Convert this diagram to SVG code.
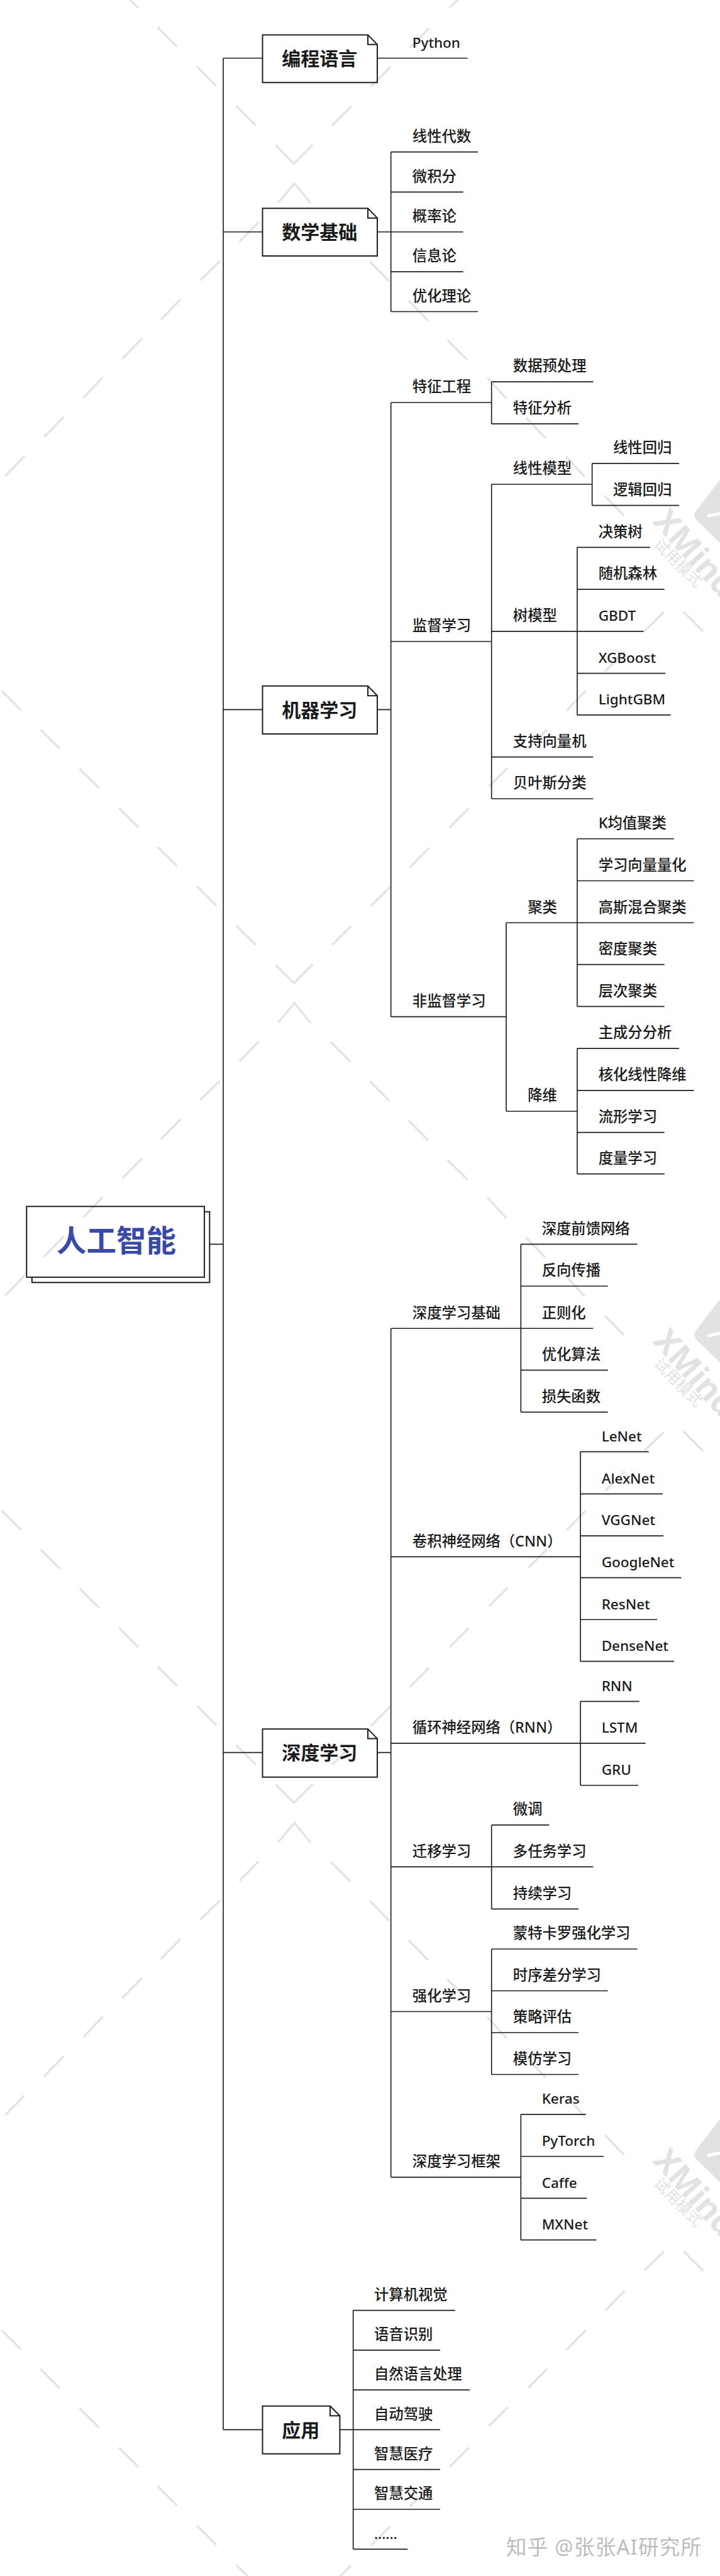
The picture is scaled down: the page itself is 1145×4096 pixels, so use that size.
<svg xmlns="http://www.w3.org/2000/svg" xmlns:xlink="http://www.w3.org/1999/xlink" width="1145" height="4096" viewBox="0 0 1145 4096">
<style>
.c{fill:none;stroke:#1f1f1f;stroke-width:2}
.b{fill:none;stroke:#1f1f1f;stroke-width:2.4;stroke-linejoin:miter}
.t,.l,.m,.r,.wm,.wx,.wz{font-family:"Noto Sans","Noto Sans CJK SC",sans-serif}
.t{font-size:28px;font-weight:500;fill:#1a1a1a}
.l{font-size:27px;font-weight:500;fill:#1a1a1a}
.m{font-size:36px;font-weight:700;fill:#1a1a1a}
.r{font-size:57px;font-weight:700;fill:#3949a8}
.wl{fill:none;stroke:#e4e4e4;stroke-width:4.2}
.wx{font-size:62px;font-weight:700;fill:#e2e2e2}
.wm{font-size:29px;font-weight:400;fill:#e2e2e2}
.wz{font-size:39px;font-weight:400;fill:#bcbcbc}
</style>
<defs>
<path id="wmtile" class="wl" d="M3 -246L40 -209M77 -172L114 -135M152 -97L189 -60M227 -22L264 15M301 52L338 89M376 127L413 164M451 202L488 239M526 277L561 312L597 276M634 239L670 203M708 165L745 128M782 91L819 54M858 15L895 -22M933 -63L969 -99M1008 -136L1044 -172M1081 -208L1118 -246M1155 -283L1192 -321M1230 -360L1267 -396M1304 -397L1342 -359M531 387L562 350L593 388M494 423L457 461M420 498L382 535M345 571L307 610M271 646L233 685M196 720L159 759M122 795L84 834M47 870L10 908M631 424L669 462M706 499L743 537M780 574L817 612M854 649L892 687M930 721L967 761M1004 797L1041 836M1080 871L1116 910M1154 946L1191 984"/>
<path id="wmlogo" fill="#e2e2e2" d="M1328 975Q1322 983 1328 991L1378 1040Q1385 1045 1392 1040V908Q1385 904 1378 910Z"/>
</defs>
<g transform="scale(0.83333)">
<g id="watermark">
<use xlink:href="#wmtile" href="#wmtile"/>
<use xlink:href="#wmtile" href="#wmtile" y="1564"/>
<use xlink:href="#wmtile" href="#wmtile" y="3128"/>
<use xlink:href="#wmtile" href="#wmtile" y="4692"/>
<g id="wm1"><use xlink:href="#wmlogo" href="#wmlogo"/><path d="M1350 985L1392 976" stroke="#fff" stroke-width="6" fill="none"/><text class="wx" transform="translate(1244 996) rotate(48)">XMind</text><text class="wm" transform="translate(1246 1040) rotate(45)">试用模式</text></g>
<g id="wm2" transform="translate(0 1564)"><use xlink:href="#wmlogo" href="#wmlogo"/><path d="M1350 985L1392 976" stroke="#fff" stroke-width="6" fill="none"/><text class="wx" transform="translate(1244 996) rotate(48)">XMind</text><text class="wm" transform="translate(1246 1040) rotate(45)">试用模式</text></g>
<g id="wm3" transform="translate(0 3128)"><use xlink:href="#wmlogo" href="#wmlogo"/><path d="M1350 985L1392 976" stroke="#fff" stroke-width="6" fill="none"/><text class="wx" transform="translate(1244 996) rotate(48)">XMind</text><text class="wm" transform="translate(1246 1040) rotate(45)">试用模式</text></g>
<text class="wz" x="966" y="4874" textLength="372">知乎 @张张AI研究所</text>
</g>
<g id="connectors">
<path class="c" d="M426 111V4636M400 2374H426M426 111H501M426 442.5H501M426 1354H501M426 3344H501M426 4636H501"/>
<path class="c" d="M720 111H892.5"/>
<path class="c" d="M720 442.5H746M746 290V594.6M746 290H912M746 366.5H884M746 442.5H884M746 518.5H884M746 594.6H912"/>
<path class="c" d="M720 1354H746M746 768V1940M746 768H938M938 728.6V808.7M938 728.6H1132M938 808.7H1104"/>
<path class="c" d="M746 1224H938M938 924V1524M938 924H1130M1130 884.2V964.3M1130 884.2H1296M1130 964.3H1296M938 1204.6H1101.5M1101.5 1044.4V1364.3M1101.5 1044.4H1240.8M1101.5 1124.5H1268M1101.5 1204.6H1228.5M1101.5 1284.7H1269.7M1101.5 1364.3H1280M938 1444.4H1132M938 1524H1132"/>
<path class="c" d="M746 1940H966M966 1760.7V2120.4M966 1760.7H1101.5M1101.5 1600.5V1920.4M1101.5 1600.5H1286.4M1101.5 1680.6H1324M1101.5 1760.7H1324M1101.5 1840.3H1268M1101.5 1920.4H1268M966 2120.4H1101.5M1101.5 2000.5V2240M1101.5 2000.5H1296M1101.5 2080.6H1324M1101.5 2160.7H1268M1101.5 2240H1268"/>
<path class="c" d="M720 3344H746M746 2534.7V4154.2M746 2534.7H994M994 2374V2694.4M994 2374H1216M994 2454H1160M994 2534.7H1132M994 2614.3H1160M994 2694.4H1160"/>
<path class="c" d="M746 2970.4H1107.6M1107.6 2770V3170M1107.6 2770H1238M1107.6 2850.5H1264.5M1107.6 2930.6H1266M1107.6 3010.4H1300.4M1107.6 3090.3H1254M1107.6 3170H1286.4"/>
<path class="c" d="M746 3326.2H1107.6M1107.6 3246.4V3406.5M1107.6 3246.4H1220M1107.6 3326.2H1232M1107.6 3406.5H1218"/>
<path class="c" d="M746 3562H938M938 3482.3V3642.5M938 3482.3H1048M938 3562H1132M938 3642.5H1104"/>
<path class="c" d="M746 3838.2H938M938 3718.8V3958.2M938 3718.8H1216M938 3798.6H1160M938 3878.4H1104M938 3958.2H1104"/>
<path class="c" d="M746 4154.2H994M994 4034.5V4274M994 4034.5H1118M994 4114.5H1152M994 4194.5H1120M994 4274H1138"/>
<path class="c" d="M648.5 4636H674M674 4408.3V4864M674 4408.3H868.4M674 4484.2H840M674 4560.2H896.4M674 4636H840M674 4712H840M674 4788H840M674 4864H778"/>
</g>
<g id="root">
<path class="b" d="M390 2312H400V2447H61V2437"/>
<rect class="b" x="50.7" y="2302" width="339.3" height="135"/>
<text class="r" x="108" y="2388.5">人工智能</text>
</g>
<g id="n-lang"><path class="b" d="M501 66.5H702L720 85V157.5H501ZM702 66.5V85H720"/><text class="m" x="538" y="124.5">编程语言</text></g>
<g id="n-math"><path class="b" d="M501 397.5H702L720 416V488.5H501ZM702 397.5V416H720"/><text class="m" x="538" y="456">数学基础</text></g>
<g id="n-ml"><path class="b" d="M501 1309H702L720 1327.5V1400.5H501ZM702 1309V1327.5H720"/><text class="m" x="538" y="1367.5">机器学习</text></g>
<g id="n-dl"><path class="b" d="M501 3299H702L720 3317.5V3391H501ZM702 3299V3317.5H720"/><text class="m" x="538" y="3357.5">深度学习</text></g>
<g id="n-app"><path class="b" d="M501 4591H630L648.5 4609.5V4682H501ZM630 4591V4609.5H648.5"/><text class="m" x="538" y="4649.5">应用</text></g>
<g id="n-python"><text class="l" x="787" y="91">Python</text></g>
<g id="n-m1"><text class="t" x="787" y="270">线性代数</text></g>
<g id="n-m2"><text class="t" x="787" y="346.5">微积分</text></g>
<g id="n-m3"><text class="t" x="787" y="422.5">概率论</text></g>
<g id="n-m4"><text class="t" x="787" y="498.5">信息论</text></g>
<g id="n-m5"><text class="t" x="787" y="574.6">优化理论</text></g>
<g id="n-fe"><text class="t" x="787" y="748">特征工程</text></g>
<g id="n-fe1"><text class="t" x="979" y="708.6">数据预处理</text></g>
<g id="n-fe2"><text class="t" x="979" y="788.7">特征分析</text></g>
<g id="n-sup"><text class="t" x="787" y="1204">监督学习</text></g>
<g id="n-lin"><text class="t" x="979" y="904">线性模型</text></g>
<g id="n-lin1"><text class="t" x="1170" y="864.2">线性回归</text></g>
<g id="n-lin2"><text class="t" x="1170" y="944.3">逻辑回归</text></g>
<g id="n-tree"><text class="t" x="979" y="1184.6">树模型</text></g>
<g id="n-tree1"><text class="t" x="1142" y="1024.4">决策树</text></g>
<g id="n-tree2"><text class="t" x="1142" y="1104.5">随机森林</text></g>
<g id="n-tree3"><text class="l" x="1142" y="1184.6">GBDT</text></g>
<g id="n-tree4"><text class="l" x="1142" y="1264.7">XGBoost</text></g>
<g id="n-tree5"><text class="l" x="1142" y="1344.3">LightGBM</text></g>
<g id="n-svm"><text class="t" x="979" y="1424.4">支持向量机</text></g>
<g id="n-bayes"><text class="t" x="979" y="1504">贝叶斯分类</text></g>
<g id="n-unsup"><text class="t" x="787" y="1920">非监督学习</text></g>
<g id="n-clu"><text class="t" x="1007" y="1740.7">聚类</text></g>
<g id="n-clu1"><text class="t" x="1142" y="1580.5">K均值聚类</text></g>
<g id="n-clu2"><text class="t" x="1142" y="1660.6">学习向量量化</text></g>
<g id="n-clu3"><text class="t" x="1142" y="1740.7">高斯混合聚类</text></g>
<g id="n-clu4"><text class="t" x="1142" y="1820.3">密度聚类</text></g>
<g id="n-clu5"><text class="t" x="1142" y="1900.4">层次聚类</text></g>
<g id="n-dim"><text class="t" x="1007" y="2100.4">降维</text></g>
<g id="n-dim1"><text class="t" x="1142" y="1980.5">主成分分析</text></g>
<g id="n-dim2"><text class="t" x="1142" y="2060.6">核化线性降维</text></g>
<g id="n-dim3"><text class="t" x="1142" y="2140.7">流形学习</text></g>
<g id="n-dim4"><text class="t" x="1142" y="2220">度量学习</text></g>
<g id="n-dlb"><text class="t" x="787" y="2514.7">深度学习基础</text></g>
<g id="n-dlb1"><text class="t" x="1034" y="2354">深度前馈网络</text></g>
<g id="n-dlb2"><text class="t" x="1034" y="2434">反向传播</text></g>
<g id="n-dlb3"><text class="t" x="1034" y="2514.7">正则化</text></g>
<g id="n-dlb4"><text class="t" x="1034" y="2594.3">优化算法</text></g>
<g id="n-dlb5"><text class="t" x="1034" y="2674.4">损失函数</text></g>
<g id="n-cnn"><text class="t" x="787" y="2950.4">卷积神经网络（CNN）</text></g>
<g id="n-cnn1"><text class="l" x="1148" y="2750">LeNet</text></g>
<g id="n-cnn2"><text class="l" x="1148" y="2830.5">AlexNet</text></g>
<g id="n-cnn3"><text class="l" x="1148" y="2910.6">VGGNet</text></g>
<g id="n-cnn4"><text class="l" x="1148" y="2990.4">GoogleNet</text></g>
<g id="n-cnn5"><text class="l" x="1148" y="3070.3">ResNet</text></g>
<g id="n-cnn6"><text class="l" x="1148" y="3150">DenseNet</text></g>
<g id="n-rnn"><text class="t" x="787" y="3306.2">循环神经网络（RNN）</text></g>
<g id="n-rnn1"><text class="l" x="1148" y="3226.4">RNN</text></g>
<g id="n-rnn2"><text class="l" x="1148" y="3306.2">LSTM</text></g>
<g id="n-rnn3"><text class="l" x="1148" y="3386.5">GRU</text></g>
<g id="n-tl"><text class="t" x="787" y="3542">迁移学习</text></g>
<g id="n-tl1"><text class="t" x="979" y="3462.3">微调</text></g>
<g id="n-tl2"><text class="t" x="979" y="3542">多任务学习</text></g>
<g id="n-tl3"><text class="t" x="979" y="3622.5">持续学习</text></g>
<g id="n-rl"><text class="t" x="787" y="3818.2">强化学习</text></g>
<g id="n-rl1"><text class="t" x="979" y="3698.8">蒙特卡罗强化学习</text></g>
<g id="n-rl2"><text class="t" x="979" y="3778.6">时序差分学习</text></g>
<g id="n-rl3"><text class="t" x="979" y="3858.4">策略评估</text></g>
<g id="n-rl4"><text class="t" x="979" y="3938.2">模仿学习</text></g>
<g id="n-fw"><text class="t" x="787" y="4134.2">深度学习框架</text></g>
<g id="n-fw1"><text class="l" x="1034" y="4014.5">Keras</text></g>
<g id="n-fw2"><text class="l" x="1034" y="4094.5">PyTorch</text></g>
<g id="n-fw3"><text class="l" x="1034" y="4174.5">Caffe</text></g>
<g id="n-fw4"><text class="l" x="1034" y="4254">MXNet</text></g>
<g id="n-a1"><text class="t" x="714" y="4388.3">计算机视觉</text></g>
<g id="n-a2"><text class="t" x="714" y="4464.2">语音识别</text></g>
<g id="n-a3"><text class="t" x="714" y="4540.2">自然语言处理</text></g>
<g id="n-a4"><text class="t" x="714" y="4616">自动驾驶</text></g>
<g id="n-a5"><text class="t" x="714" y="4692">智慧医疗</text></g>
<g id="n-a6"><text class="t" x="714" y="4768">智慧交通</text></g>
<g id="n-a7"><text class="l" x="714" y="4844">......</text></g>
</g>
</svg>
